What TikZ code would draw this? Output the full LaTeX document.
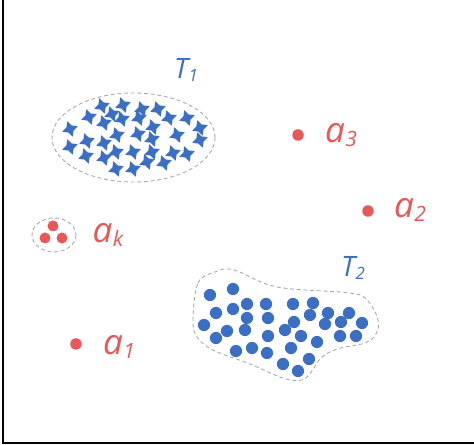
\documentclass[tikz,border=0pt]{standalone}
\usepackage{fontspec}
\setmainfont{Open Sans}
\usetikzlibrary{shapes.geometric}

\definecolor{ptblue}{RGB}{58,111,196}
\definecolor{ptred}{RGB}{232,88,88}
\definecolor{hullgray}{RGB}{168,168,168}

\newcommand{\lowsub}[1]{\kern0.2pt\raisebox{-0.2ex}{\scalebox{0.6}{#1}}}

\begin{document}
\begin{tikzpicture}[x=0.02cm,y=-0.02cm,
		target/.style={star, star points=4, star point ratio=2.1, fill=ptblue, inner sep=0pt, minimum size=0.33cm, shape border rotate=20},
		bluedot/.style={circle, fill=ptblue, inner sep=0pt, minimum size=0.245cm},
		reddot/.style={circle, fill=ptred, inner sep=0pt, minimum size=0.23cm},
		hull/.style={draw=hullgray, line width=0.5pt, dash pattern=on 2.2pt off 1.6pt},
		setlabel/.style={text=ptblue, font=\itshape\fontsize{16}{16}\selectfont},
		agentlabel/.style={text=ptred, font=\itshape\fontsize{20}{20}\selectfont}]
		
		\useasboundingbox (0,0) rectangle (474,445);
		
		% Draw frame
		\coordinate (top) at (3,0);
		\coordinate (corner) at (3,443);
		\coordinate (right) at (474,443);
		\draw [line width=0.9pt] (top) -- (corner) -- (right);
		
		% Target set T1
		% Draw hull
		\draw [hull] (133.5,137.5) ellipse [x radius=81.5, y radius=44.5];
		
		% Draw stars
		\foreach \x/\y [count=\i] in {102/106, 123/105, 142/109, 158/109, 112/114, 89/117, 104/123, 122/119, 139/118, 169/118, 187/118, 200/128, 70/129, 117/135, 138/134, 153/127, 177/135, 200/140, 152/139, 87/141, 104/143, 70/147, 116/152, 133/152, 152/152, 173/153, 187/154, 86/156, 104/158, 116/169, 133/169, 147/162, 164/163}
			\node [target] (s\i) at (\x,\y) {};
		
		\node [setlabel] (T1) at (186,70) {T\lowsub{1}};
		
		% Target set T2
		% Draw hull
		\draw [hull] plot [smooth cycle, tension=0.6] coordinates {(193,320) (198,283) (215,272) (234,270) (277,287) (350,293) (368,301) (378,320) (376,334) (365,343) (337,349) (321,358) (312,371) (302,380) (283,378) (250,364) (213,350) (197,337)};
		
		% Draw dots
		\foreach \x/\y [count=\i] in {210/295, 233/289, 216/313, 233/309, 247/304, 266/304, 247/318, 268/318, 204/325, 227/331, 245/330, 268/336, 216/338, 236/351, 252/348, 267/353, 293/304, 313/303, 310/315, 294/322, 328/313, 325/324, 349/313, 341/322, 362/323, 285/330, 301/336, 317/342, 340/336, 356/336, 291/348, 309/359, 283/364, 298/371}
			\node [bluedot] (d\i) at (\x,\y) {};
		
		\node [setlabel] (T2) at (353,268) {T\lowsub{2}};
		
		% Agents
		\node [reddot] (a3) at (298,135) {};
		\node [agentlabel] (l3) at (341,135) {a\lowsub{3}};
		
		\node [reddot] (a2) at (368,211) {};
		\node [agentlabel] (l2) at (410,210) {a\lowsub{2}};
		
		\node [reddot] (a1) at (76,344) {};
		\node [agentlabel] (l1) at (119,347) {a\lowsub{1}};
		
		% Draw agent group
		\draw [hull] (54,235) ellipse [x radius=22, y radius=17];
		\node [reddot, minimum size=0.22cm] (k1) at (53,226) {};
		\node [reddot, minimum size=0.22cm] (k2) at (45,238) {};
		\node [reddot, minimum size=0.22cm] (k3) at (62,238) {};
		\node [agentlabel] (lk) at (108,235) {a\lowsub{k}};
		
\end{tikzpicture}
\end{document}
